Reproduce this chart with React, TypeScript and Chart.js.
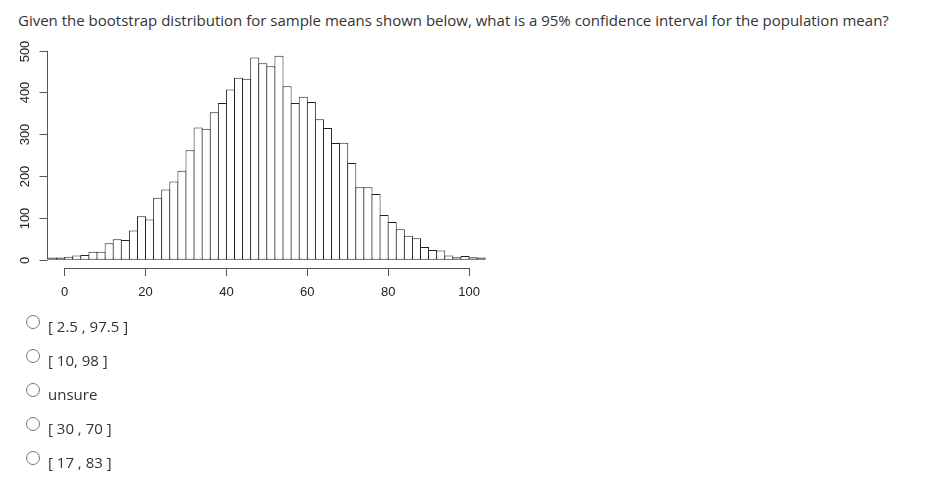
import React, { useEffect, useRef } from "react";
import { Chart, registerables } from "chart.js";
Chart.register(...registerables);

// Histogram bins (left edges) and counts
const binStarts = [
  -4, -2, 0, 2, 4, 6, 8, 10, 12, 14, 16, 18, 20, 22, 24, 26, 28, 30, 32, 34,
  36, 38, 40, 42, 44, 46, 48, 50, 52, 54, 56, 58, 60, 62, 64, 66, 68, 70, 72, 74,
  76, 78, 80, 82, 84, 86, 88, 90, 92, 94, 96, 98, 100, 102,
];
const counts = [
  5, 5, 7, 10, 11, 19, 19, 39, 49, 47, 70, 104, 96, 148, 168, 187, 213, 262, 316, 313,
  353, 375, 407, 435, 433, 484, 470, 463, 488, 415, 375, 390, 377, 336, 315, 279, 280, 231, 173, 173,
  157, 107, 90, 73, 57, 51, 30, 23, 22, 10, 6, 9, 6, 5,
];
const BIN_WIDTH = 2;
const xTicks = [0, 20, 40, 60, 80, 100];
const yTicks = [0, 100, 200, 300, 400, 500];

const question =
  "Given the bootstrap distribution for sample means shown below, what is a 95% confidence interval for the population mean?";
const answers = ["[ 2.5 , 97.5 ]", "[ 10, 98 ]", "unsure", "[ 30 , 70 ]", "[ 17 , 83 ]"];
const answerCenters = [322, 356, 390, 424, 458];

const AXIS_COLOR = "#555";
const LABEL_FONT = "13px 'Liberation Sans', Arial, sans-serif";

const rAxes = {
  id: "rAxes",
  afterDraw(chart: any) {
    const { ctx, chartArea } = chart;
    const x = chart.scales.x;
    const y = chart.scales.y;
    ctx.save();
    ctx.strokeStyle = AXIS_COLOR;
    ctx.lineWidth = 1;
    // x axis line (0..100)
    const xb = Math.round(chartArea.bottom) + 0.5;
    ctx.beginPath();
    ctx.moveTo(x.getPixelForValue(xTicks[0]), xb);
    ctx.lineTo(x.getPixelForValue(xTicks[xTicks.length - 1]), xb);
    ctx.stroke();
    // y axis line (0..500)
    const yl = Math.round(chartArea.left) - 0.5;
    ctx.beginPath();
    ctx.moveTo(yl, y.getPixelForValue(yTicks[0]));
    ctx.lineTo(yl, y.getPixelForValue(yTicks[yTicks.length - 1]));
    ctx.stroke();
    // y ticks and rotated labels
    ctx.fillStyle = "#222";
    ctx.font = LABEL_FONT;
    ctx.textAlign = "center";
    ctx.textBaseline = "middle";
    for (const v of yTicks) {
      const py = Math.round(y.getPixelForValue(v)) + 0.5;
      ctx.beginPath();
      ctx.moveTo(yl - 8, py);
      ctx.lineTo(yl, py);
      ctx.stroke();
      ctx.save();
      ctx.translate(yl - 22, py);
      ctx.rotate(-Math.PI / 2);
      ctx.fillText(String(v), 0, 0);
      ctx.restore();
    }
    ctx.restore();
  },
};

function Histogram() {
  const ref = useRef<HTMLCanvasElement | null>(null);
  useEffect(() => {
    if (!ref.current) return;
    const chart = new Chart(ref.current, {
      type: "bar",
      data: {
        datasets: [
          {
            data: binStarts.map((s, i) => ({ x: s + BIN_WIDTH / 2, y: counts[i] })),
            backgroundColor: "#ffffff",
            borderColor: "#222222",
            borderWidth: 1,
            borderSkipped: false,
            categoryPercentage: 1,
            barPercentage: 1.12,
          } as any,
        ],
      },
      options: {
        animation: false,
        responsive: false,
        maintainAspectRatio: false,
        layout: { padding: { left: 0, top: 14.7, right: 16.7, bottom: 8 } },
        plugins: { legend: { display: false }, tooltip: { enabled: false } },
        scales: {
          x: {
            type: "linear",
            min: -4.05,
            max: 106,
            offset: false,
            afterBuildTicks: (s: any) => {
              s.ticks = xTicks.map((v) => ({ value: v }));
            },
            afterFit: (s: any) => {
              s.height = 40;
            },
            grid: {
              display: true,
              drawOnChartArea: false,
              drawTicks: true,
              tickLength: 8,
              color: AXIS_COLOR,
              offset: false,
              lineWidth: 1,
            },
            border: { display: false },
            ticks: {
              font: { family: "'Liberation Sans', Arial, sans-serif", size: 13 },
              color: "#222",
              padding: 9,
              maxRotation: 0,
              autoSkip: false,
            },
          },
          y: {
            type: "linear",
            min: -20,
            max: 500,
            afterBuildTicks: (s: any) => {
              s.ticks = yTicks.map((v) => ({ value: v }));
            },
            afterFit: (s: any) => {
              s.width = 48.3;
            },
            grid: { display: false },
            border: { display: false },
            ticks: { display: false },
          },
        },
      } as any,
      plugins: [rAxes],
    });
    return () => chart.destroy();
  }, []);
  return (
    <canvas
      ref={ref}
      width={510}
      height={280}
      style={{ position: "absolute", left: 0, top: 36, width: 510, height: 280 }}
    />
  );
}

export default function App() {
  const textFont = "'Open Sans', 'Noto Sans', sans-serif";
  return (
    <div style={{ position: "absolute", left: 0, top: 0, width: 931, height: 500, background: "#fff" }}>
      <div
        style={{
          position: "absolute",
          left: 18,
          top: 10,
          fontFamily: textFont,
          fontSize: 15,
          lineHeight: "20px",
          color: "#333",
          whiteSpace: "nowrap",
        }}
      >
        {question}
      </div>
      <Histogram />
      {answers.map((a, i) => (
        <div key={i}>
          <input
            type="radio"
            name="ci"
            style={{
              position: "absolute",
              left: 26,
              top: answerCenters[i] - 7,
              width: 14,
              height: 14,
              margin: 0,
            }}
          />
          <div
            style={{
              position: "absolute",
              left: 48,
              top: answerCenters[i] + 4 - 10,
              fontFamily: textFont,
              fontSize: 15,
              lineHeight: "20px",
              color: "#333",
              whiteSpace: "nowrap",
            }}
          >
            {a}
          </div>
        </div>
      ))}
    </div>
  );
}
